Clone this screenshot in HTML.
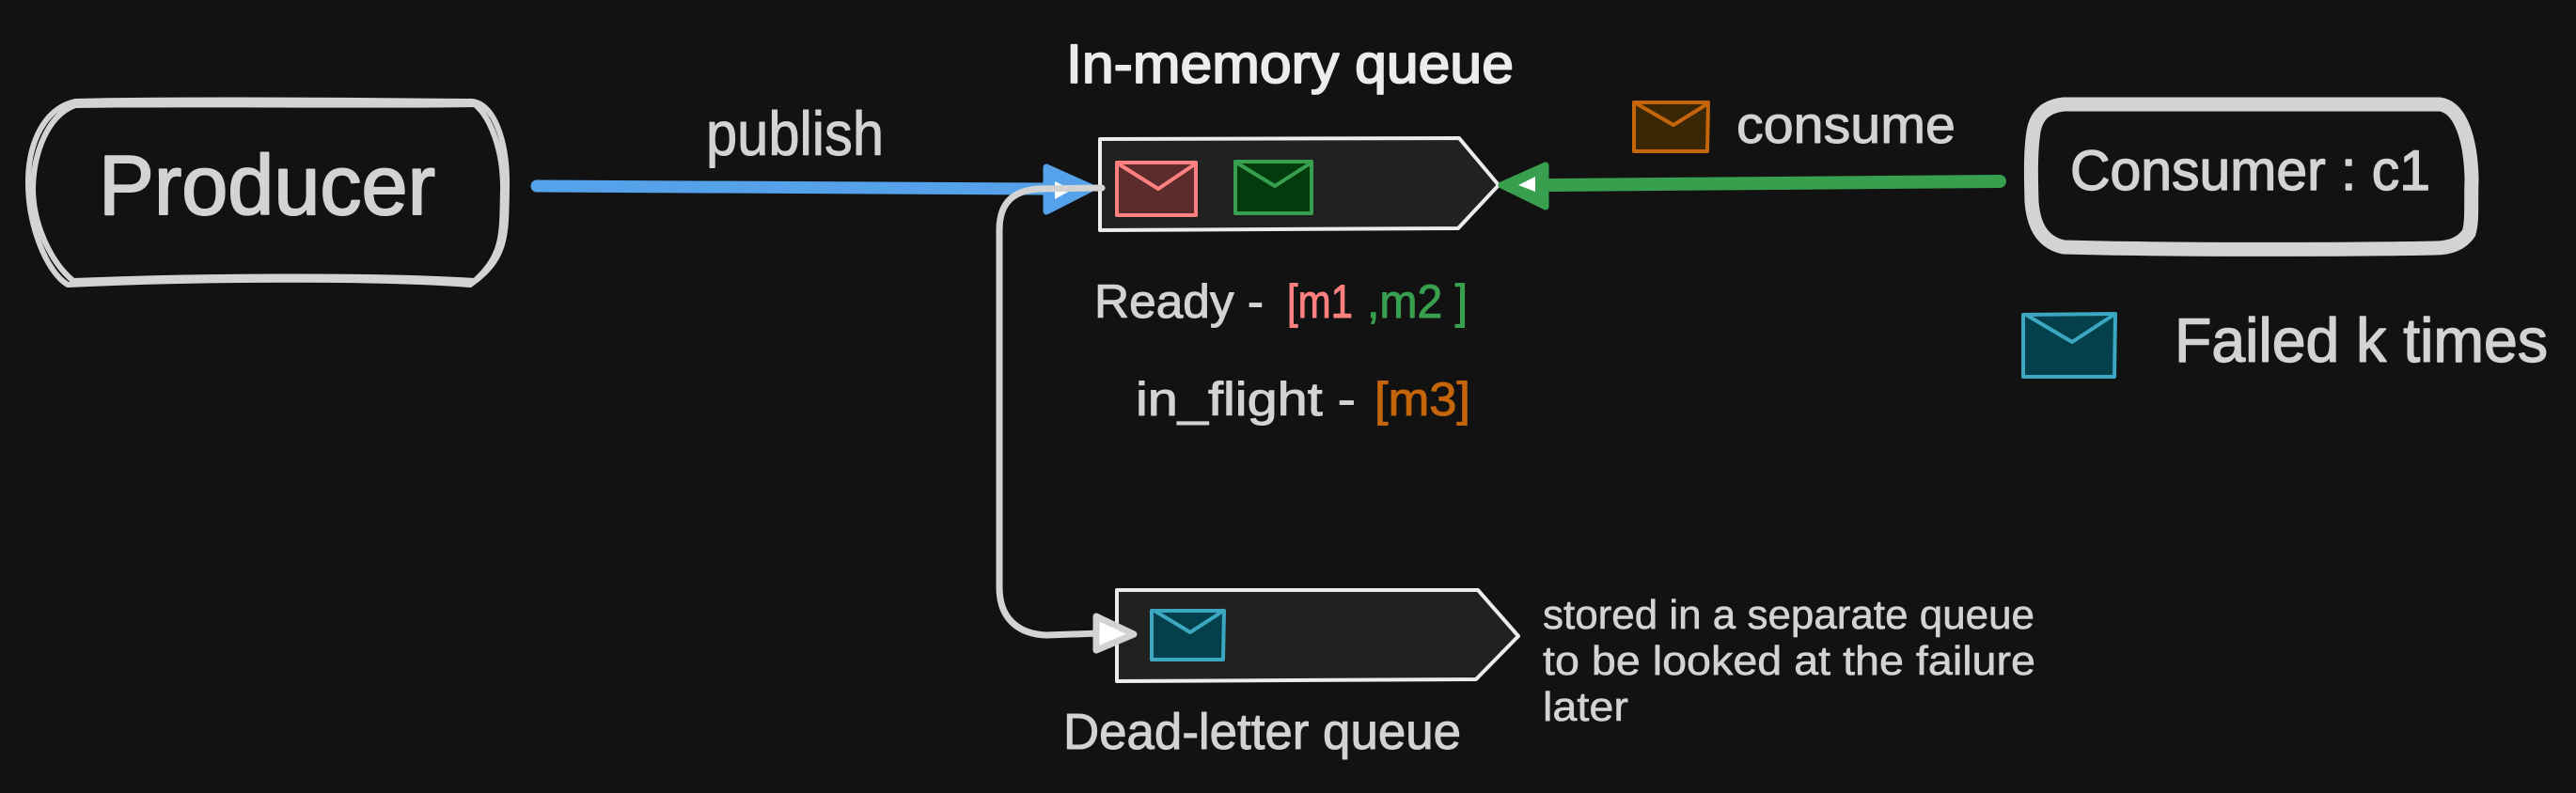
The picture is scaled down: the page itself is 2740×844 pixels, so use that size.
<!DOCTYPE html>
<html><head><meta charset="utf-8"><style>
html,body{margin:0;padding:0;background:#121212;width:2740px;height:844px;overflow:hidden}
svg{display:block}
text{font-family:"Liberation Sans",sans-serif;fill:#d3d3d3;stroke:#d3d3d3;stroke-width:1;stroke-linejoin:round}
</style></head><body>
<svg xmlns="http://www.w3.org/2000/svg" width="2740" height="844" viewBox="0 0 2740 844">
<rect width="2740" height="844" fill="#121212"/>
<!-- Producer -->
<g fill="none" stroke="#d3d3d3" stroke-width="6" stroke-linecap="round">
<path d="M80 108C200 105 400 107 498 108C525 106 540 150 539 200C538 250 540 275 500 303C400 295 200 297 72 303C50 290 29 240 30 190C31 150 48 115 80 108Z"/>
<path d="M80 112C200 110 400 113 505 111C522 125 535 160 535 200C534 250 536 270 505 299C400 292 200 294 78 299C55 280 35 240 35 200C36 160 52 122 80 112Z"/>
</g>
<!-- Consumer -->
<path d="M2195 111C2300 110 2500 112 2595 111C2618 114 2628 150 2629 190C2628 220 2630 235 2626 248C2618 260 2605 264 2590 264C2500 266 2300 266 2195 263C2172 258 2163 240 2161 215C2160 180 2160 160 2163 140C2166 122 2177 113 2195 111Z" fill="none" stroke="#d3d3d3" stroke-width="15"/>
<!-- Queue 1 -->
<path d="M1170 148L1552 147L1594 197L1551 243L1170 245Z" fill="#212121" stroke="#ececec" stroke-width="4" stroke-linejoin="round"/>
<!-- Queue 2 -->
<path d="M1188 628L1572 628L1615 677L1570 723L1188 725Z" fill="#212121" stroke="#ececec" stroke-width="4" stroke-linejoin="round"/>
<!-- Blue arrow -->
<path d="M571 198L1112 201" stroke="#55a2ea" stroke-width="13" stroke-linecap="round" fill="none"/>
<path d="M1113 178L1162 200L1113 225Z" fill="#55a2ea" stroke="#55a2ea" stroke-width="7" stroke-linejoin="round"/>
<path d="M1122 193L1140 202L1122 212Z" fill="#fff"/>
<!-- Gray arrow -->
<path d="M1172 200L1105 201C1078 203 1063 215 1063 245L1063 625C1063 660 1085 675 1113 676L1170 674" fill="none" stroke="#d3d3d3" stroke-width="7" stroke-linecap="round"/>
<path d="M1166 656L1206 675L1166 692Z" fill="#fff" stroke="#d3d3d3" stroke-width="7" stroke-linejoin="round"/>
<!-- Green arrow -->
<path d="M2127 193L1650 197" stroke="#389f4f" stroke-width="14" stroke-linecap="round" fill="none"/>
<path d="M1644 176L1597 197L1644 220Z" fill="#389f4f" stroke="#389f4f" stroke-width="7" stroke-linejoin="round"/>
<path d="M1633 188L1615 197L1633 204Z" fill="#fff"/>
<!-- Envelopes -->
<g stroke-width="4" stroke-linejoin="round">
<path d="M1188 173L1272 173L1272 229L1188 229Z" fill="#5c2c2c" stroke="#ff8080"/>
<path d="M1189 174L1232 201L1272 174" fill="none" stroke="#ff8080"/>
<path d="M1314 172L1395 172L1395 227L1314 227Z" fill="#043b0c" stroke="#389f4f"/>
<path d="M1315 173L1356 198L1395 173" fill="none" stroke="#389f4f"/>
<path d="M1738 109L1817 109L1816 161L1738 161Z" fill="#3a2705" stroke="#c4650a"/>
<path d="M1740 110L1780 133L1817 110" fill="none" stroke="#c4650a"/>
<path d="M2152 335L2250 334L2249 401L2152 401Z" fill="#03404c" stroke="#3ba7c0"/>
<path d="M2155 335L2204 364L2250 334" fill="none" stroke="#3ba7c0"/>
<path d="M1225 650L1302 650L1301 702L1225 702Z" fill="#03404c" stroke="#3ba7c0"/>
<path d="M1228 650L1266 673L1303 649" fill="none" stroke="#3ba7c0"/>
</g>
<!-- Text -->
<text x="105" y="228" font-size="90" stroke-width="2" textLength="358" lengthAdjust="spacingAndGlyphs" style="stroke-width:2">Producer</text>
<text x="751" y="165" font-size="66" textLength="189" lengthAdjust="spacingAndGlyphs">publish</text>
<text x="1134" y="88" font-size="58" textLength="476" lengthAdjust="spacingAndGlyphs" style="fill:#ececec;stroke:#ececec;stroke-width:1.8">In-memory queue</text>
<text x="1847" y="152" font-size="56" textLength="233" lengthAdjust="spacingAndGlyphs">consume</text>
<text x="2202" y="202" font-size="60" textLength="383" lengthAdjust="spacingAndGlyphs" style="stroke-width:1.4">Consumer : c1</text>
<text x="2313" y="385" font-size="66" textLength="397" lengthAdjust="spacingAndGlyphs" style="stroke-width:1.4">Failed k times</text>
<text x="1164" y="338" font-size="50" textLength="180" lengthAdjust="spacingAndGlyphs">Ready -</text>
<text x="1369" y="338" font-size="50" textLength="70" lengthAdjust="spacingAndGlyphs" style="fill:#ff8080;stroke:#ff8080">[m1</text>
<text x="1454" y="338" font-size="50" textLength="107" lengthAdjust="spacingAndGlyphs" style="fill:#389f4f;stroke:#389f4f">,m2 ]</text>
<text x="1208" y="442" font-size="50" textLength="234" lengthAdjust="spacingAndGlyphs">in_flight -</text>
<text x="1462" y="442" font-size="50" textLength="102" lengthAdjust="spacingAndGlyphs" style="fill:#c4650a;stroke:#c4650a">[m3]</text>
<text x="1131" y="797" font-size="54" textLength="423" lengthAdjust="spacingAndGlyphs">Dead-letter queue</text>
<text x="1641" y="669" font-size="44" textLength="523" lengthAdjust="spacingAndGlyphs" style="stroke-width:.6">stored in a separate queue</text>
<text x="1641" y="718" font-size="44" textLength="524" lengthAdjust="spacingAndGlyphs" style="stroke-width:.6">to be looked at the failure</text>
<text x="1641" y="767" font-size="44" textLength="91" lengthAdjust="spacingAndGlyphs" style="stroke-width:.6">later</text>
</svg>
</body></html>
